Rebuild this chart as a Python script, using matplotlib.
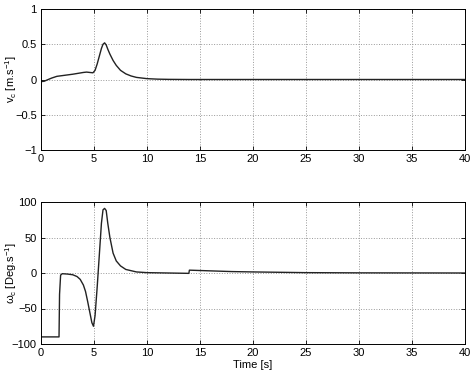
import matplotlib
matplotlib.use("Agg")
import matplotlib.pyplot as plt

# v_c data
t_v = [0, 0.3, 0.6, 1.0, 1.5, 2.0, 3.0, 4.0, 4.3, 4.6, 4.9, 5.1, 5.3, 5.5, 5.7, 5.85,
       6.0, 6.15, 6.3, 6.5, 6.8, 7.1, 7.5, 8.0, 8.5, 9.0, 10.0, 11.0, 12.0, 14.0, 40.0]
v_c = [-0.03, -0.025, -0.005, 0.02, 0.045, 0.055, 0.075, 0.1, 0.105, 0.1, 0.095, 0.13,
       0.22, 0.33, 0.44, 0.5, 0.52, 0.49, 0.43, 0.36, 0.27, 0.2, 0.13, 0.08, 0.05, 0.03,
       0.012, 0.005, 0.002, 0.0, 0.0]

# omega_c data
t_w = [0, 1.7, 1.75, 1.85, 2.0, 2.5, 3.0, 3.4, 3.7, 4.0, 4.2, 4.4, 4.6, 4.8, 4.95, 5.1,
       5.3, 5.5, 5.7, 5.85, 6.0, 6.15, 6.3, 6.5, 6.8, 7.1, 7.5, 8.0, 9.0, 10.0, 12.0,
       13.95, 14.0, 15.0, 18.0, 20.0, 25.0, 30.0, 40.0]
w_c = [-90, -90, -30, -3, -1, -1.5, -2.5, -5, -9, -17, -26, -40, -55, -70, -75, -60,
       -20, 25, 70, 89, 91, 88, 70, 50, 28, 17, 10, 5, 1.5, 0.5, 0,
       -0.5, 4, 3.5, 2, 1.5, 0.5, 0.2, 0]

plt.rcParams['font.family'] = ['Liberation Sans', 'DejaVu Sans']
plt.rcParams['mathtext.fontset'] = 'custom'
plt.rcParams['mathtext.rm'] = 'Liberation Sans'
plt.rcParams['mathtext.it'] = 'Liberation Sans'

fig = plt.figure(figsize=(4.74, 3.70), dpi=100)
W, H = 474, 370
ax1 = fig.add_axes([41 / W, 1 - 150 / H, (465 - 41) / W, (150 - 9) / H])
ax2 = fig.add_axes([41 / W, 1 - 344 / H, (465 - 41) / W, (344 - 202) / H])

for ax in (ax1, ax2):
    ax.set_xlim(0, 40)
    ax.set_xticks(range(0, 41, 5))
    ax.grid(True, linestyle=':', color='#999999', linewidth=0.7)
    ax.tick_params(direction='in', top=True, right=True, labelsize=8, length=3,
                   width=0.6, pad=3)
    for s in ax.spines.values():
        s.set_linewidth(0.7)

ax1.plot(t_v, v_c, color='#222222', linewidth=1.0)
ax1.set_ylim(-1, 1)
ax1.set_yticks([-1, -0.5, 0, 0.5, 1])
ax1.set_yticklabels(['\u22121', '\u22120.5', '0', '0.5', '1'])
ax1.set_ylabel('v$_\\mathrm{c}$ [m.s$^{-1}$]', fontsize=8)
ax1.yaxis.set_label_coords(-0.052, 0.5)

ax2.plot(t_w, w_c, color='#222222', linewidth=1.0)
ax2.set_ylim(-100, 100)
ax2.set_yticks([-100, -50, 0, 50, 100])
ax2.set_yticklabels(['\u2212100', '\u221250', '0', '50', '100'])
ax2.set_ylabel('$\\omega_\\mathrm{c}$ [Deg.s$^{-1}$]', fontsize=8)
ax2.yaxis.set_label_coords(-0.052, 0.5)
ax2.set_xlabel('Time [s]', fontsize=8, labelpad=1)

fig.savefig('out.png', dpi=100)
